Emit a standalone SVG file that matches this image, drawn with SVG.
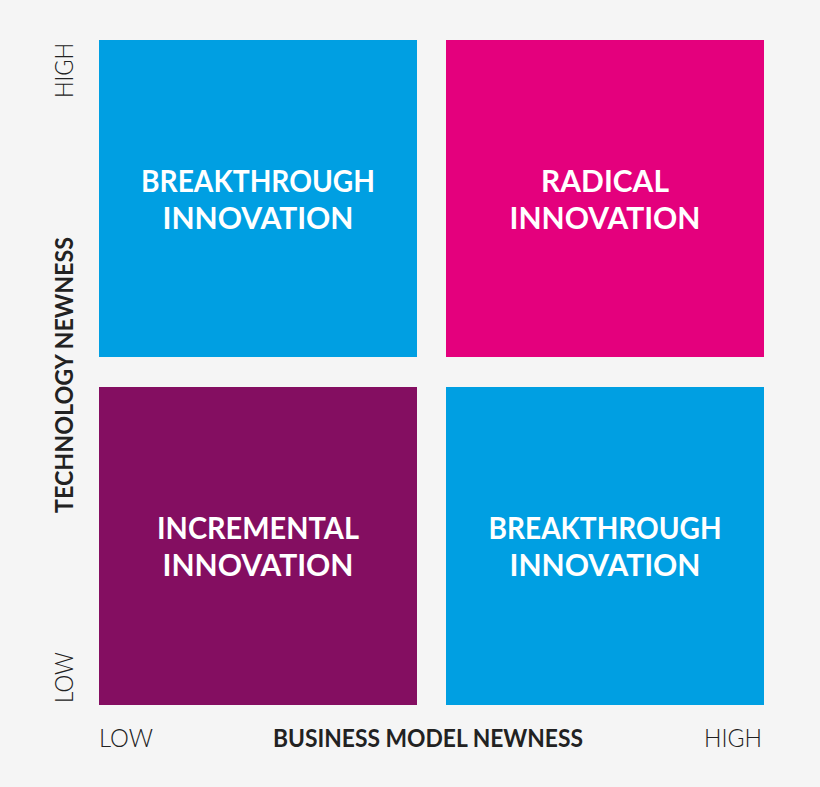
<svg xmlns="http://www.w3.org/2000/svg" width="820" height="787" viewBox="0 0 820 787">
<style>
.box-label{font-family:Lato,"Liberation Sans",sans-serif;font-weight:700;font-size:31px;fill:#ffffff;text-anchor:middle}
.axis-title{font-family:Lato,"Liberation Sans",sans-serif;font-weight:700;font-size:24px;fill:#222222;text-anchor:middle}
.axis-tick{font-family:Lato,"Liberation Sans",sans-serif;font-weight:300;font-size:25px;fill:#222222}
.blue{fill:#009FE2}
.pink{fill:#E4007D}
.purple{fill:#840E61}
</style>
<rect width="820" height="787" fill="#F5F5F5"/>
<g id="breakthrough-top">
<rect class="blue" x="99" y="40" width="318" height="317"/>
<text class="box-label" x="258" y="192" textLength="234" lengthAdjust="spacingAndGlyphs">BREAKTHROUGH</text>
<text class="box-label" x="258" y="229" textLength="191" lengthAdjust="spacingAndGlyphs">INNOVATION</text>
</g>
<g id="radical">
<rect class="pink" x="446" y="40" width="318" height="317"/>
<text class="box-label" x="605" y="192" textLength="128" lengthAdjust="spacingAndGlyphs">RADICAL</text>
<text class="box-label" x="605" y="229" textLength="191" lengthAdjust="spacingAndGlyphs">INNOVATION</text>
</g>
<g id="incremental">
<rect class="purple" x="99" y="387" width="318" height="318"/>
<text class="box-label" x="258" y="539" textLength="202" lengthAdjust="spacingAndGlyphs">INCREMENTAL</text>
<text class="box-label" x="258" y="576" textLength="191" lengthAdjust="spacingAndGlyphs">INNOVATION</text>
</g>
<g id="breakthrough-bottom">
<rect class="blue" x="446" y="387" width="318" height="318"/>
<text class="box-label" x="605" y="539" textLength="233" lengthAdjust="spacingAndGlyphs">BREAKTHROUGH</text>
<text class="box-label" x="605" y="576" textLength="191" lengthAdjust="spacingAndGlyphs">INNOVATION</text>
</g>
<g id="y-axis">
<text class="axis-title" transform="translate(73,375) rotate(-90)" textLength="276" lengthAdjust="spacingAndGlyphs">TECHNOLOGY NEWNESS</text>
<text class="axis-tick" transform="translate(73,98) rotate(-90)" textLength="55" lengthAdjust="spacingAndGlyphs">HIGH</text>
<text class="axis-tick" transform="translate(73,703) rotate(-90)" textLength="51" lengthAdjust="spacingAndGlyphs">LOW</text>
</g>
<g id="x-axis">
<text class="axis-title" x="428" y="747" textLength="310" lengthAdjust="spacingAndGlyphs">BUSINESS MODEL NEWNESS</text>
<text class="axis-tick" x="99" y="747" textLength="54" lengthAdjust="spacingAndGlyphs">LOW</text>
<text class="axis-tick" x="704" y="747" textLength="58" lengthAdjust="spacingAndGlyphs">HIGH</text>
</g>
<g id="connectors"></g>
</svg>
